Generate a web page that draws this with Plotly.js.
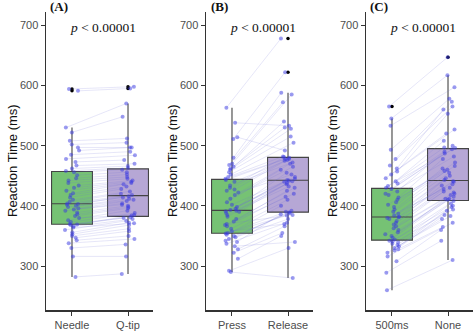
<!DOCTYPE html>
<html><head><meta charset="utf-8">
<script src="https://cdn.plot.ly/plotly-3.0.1.min.js"></script>
<style>html,body{margin:0;padding:0;background:#fff}#chart{width:474px;height:333px}</style>
</head><body><div id="chart"></div>
<script>
// ---- data (ms), one value per subject, paired by index ----
const catsA = ['Needle', 'Q-tip'];
const needle = [282,316,330,338,343,347,350,353,356,360,364,366,368,369,370,373,376,380,383,386,389,392,394,396,398,400,402,403,404,407,410,414,418,421,425,430,434,438,442,446,451,456,458,462,467,473,478,485,492,497,502,508,522,530,591,594];
const qtip   = [287,316,336,345,350,358,362,368,372,375,371,378,380,384,381,388,392,385,396,398,400,404,402,408,410,412,414,416,418,420,424,428,432,436,438,440,442,445,448,452,456,460,463,466,470,476,484,490,497,497,505,512,548,570,595,598];

const catsB = ['Press', 'Release'];
const press   = [290,292,312,322,328,333,337,340,342,345,348,350,352,354,355,358,362,366,368,370,374,378,382,385,388,390,391,392,393,395,398,402,406,412,418,422,425,427,430,434,440,443,445,448,452,456,460,462,465,468,470,480,511,514,538,563];
const release = [280,330,350,355,366,340,372,386,378,389,392,388,400,384,390,370,410,415,420,385,425,430,438,441,443,445,436,432,442,440,455,448,460,465,470,452,475,478,481,472,476,480,478,482,505,515,528,530,540,572,585,588,622,492,533,678];

const catsC = ['500ms', 'None'];
const ms500 = [260,289,308,316,322,326,328,330,333,335,337,339,341,342,344,347,350,353,356,360,363,366,369,372,375,378,380,381,382,384,387,390,394,398,402,406,410,414,418,420,424,428,430,433,437,441,446,452,457,462,467,478,493,533,545,565];
const none  = [310,342,360,372,378,385,365,383,392,398,394,404,408,410,400,412,415,418,420,412,422,424,428,430,434,440,436,441,443,446,450,455,460,462,458,466,472,478,482,487,490,494,497,496,500,508,520,527,553,560,565,573,578,597,617,647];

const panelLabels = ['(A)', '(B)', '(C)'];
const pText = '<i>p</i> < 0.00001';
const yTitle = 'Reaction Time (ms)';
const yTicks = [300, 400, 500, 600, 700];

// ---- drawing ----
const W = 474, H = 333;
const panels = [
  {cats: catsA, a: needle, b: qtip, x0: 46},
  {cats: catsB, a: press, b: release, x0: 206},
  {cats: catsC, a: ms500, b: none, x0: 366}
];
const green = 'rgb(118,194,116)';
const purple = 'rgb(182,167,213)';
const traces = [];
const annotations = [];
const layout = {
  width: W, height: H,
  margin: {l: 0, r: 0, t: 0, b: 0},
  paper_bgcolor: '#fff', plot_bgcolor: '#fff',
  showlegend: false,
  font: {family: 'Liberation Sans, Arial, sans-serif', color: '#4d4d4d', size: 11},
  annotations: annotations
};
// deterministic horizontal jitter (visual spread only)
function jit(i, k) {
  const s = Math.sin((i + 1) * 12.9898 + (k + 1) * 78.233) * 43758.5453;
  return (s - Math.floor(s) - 0.5) * 0.26;
}
const pxTop = 12, pxBot = 310;
panels.forEach((p, k) => {
  const sfx = k === 0 ? '' : String(k + 1);
  const xa = 'x' + sfx, ya = 'y' + sfx;
  const xd = [p.x0 / W, (p.x0 + 107) / W];
  layout['xaxis' + sfx] = {
    domain: xd, anchor: ya, range: [-0.464, 1.446],
    tickvals: [0, 1], ticktext: p.cats,
    showline: true, linecolor: '#333', linewidth: 1.5,
    ticks: 'outside', ticklen: 4, tickcolor: '#333', tickwidth: 1,
    tickfont: {size: 11, color: '#4d4d4d'},
    showgrid: false, zeroline: false, fixedrange: true
  };
  layout['yaxis' + sfx] = {
    domain: [1 - pxBot / H, 1 - pxTop / H], anchor: xa, range: [227, 722],
    tickvals: yTicks,
    showline: true, linecolor: '#333', linewidth: 1.5,
    ticks: 'outside', ticklen: 4, tickcolor: '#333', tickwidth: 1,
    tickfont: {size: 11, color: '#4d4d4d'},
    showgrid: false, zeroline: false, fixedrange: true
  };
  [p.a, p.b].forEach((vals, j) => {
    traces.push({
      type: 'box', y: vals, x0: j, width: 0.73, xaxis: xa, yaxis: ya,
      fillcolor: j === 0 ? green : purple,
      line: {color: '#444', width: 1.1},
      whiskerwidth: 0, boxpoints: 'outliers', jitter: 0, pointpos: 0,
      marker: {color: '#000', size: 3.5, line: {width: 0}},
      hoverinfo: 'skip'
    });
  });
  // paired lines
  const lx = [], ly = [];
  const ax = [], bx = [];
  p.a.forEach((v, i) => {
    const xA = 0 + jit(i, k * 2), xB = 1 + jit(i, k * 2 + 1);
    ax.push(xA); bx.push(xB);
    lx.push(xA, xB, null); ly.push(v, p.b[i], null);
  });
  traces.push({type: 'scatter', mode: 'lines', x: lx, y: ly, xaxis: xa, yaxis: ya,
    line: {color: 'rgba(110,110,215,0.25)', width: 0.7}, hoverinfo: 'skip', connectgaps: false});
  traces.push({type: 'scatter', mode: 'markers', x: ax.concat(bx), y: p.a.concat(p.b), xaxis: xa, yaxis: ya,
    marker: {color: 'rgba(55,55,225,0.5)', size: 4, line: {width: 0}}, hoverinfo: 'skip'});
  // annotations
  annotations.push({xref: 'paper', yref: 'paper', x: (p.x0 + 13) / W, y: 1 - 7 / H,
    text: '<b>' + panelLabels[k] + '</b>', showarrow: false, xanchor: 'center', yanchor: 'middle',
    font: {family: 'Liberation Serif, Times New Roman, serif', size: 13, color: '#111'}});
  annotations.push({xref: 'paper', yref: 'paper', x: (p.x0 + 57) / W, y: 1 - 27 / H,
    text: pText, showarrow: false, xanchor: 'center', yanchor: 'middle',
    font: {family: 'Liberation Serif, Times New Roman, serif', size: 13.5, color: '#111'}});
  annotations.push({xref: 'paper', yref: 'paper', x: (p.x0 - 34) / W, y: 1 - 161 / H,
    text: yTitle, showarrow: false, textangle: -90, xanchor: 'center', yanchor: 'middle',
    font: {family: 'Liberation Sans, Arial, sans-serif', size: 13, color: '#111'}});
});
Plotly.newPlot('chart', traces, layout, {staticPlot: true, displayModeBar: false});
</script>
</body></html>
